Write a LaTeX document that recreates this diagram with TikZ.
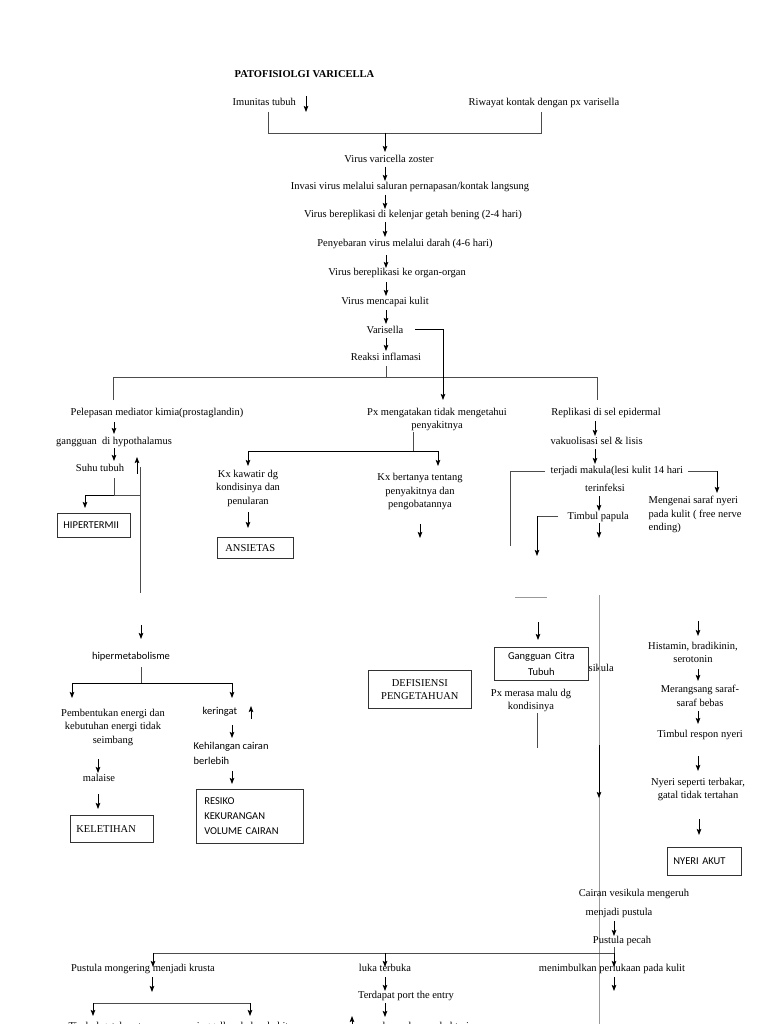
\documentclass[tikz,border=0pt]{standalone}
\usepackage{fontspec}
\setmainfont{Liberation Serif}
\newfontfamily\sansf{Carlito}
\usetikzlibrary{arrows.meta}
\begin{document}
\begin{tikzpicture}[x=1pt,y=-1pt,
  tx/.style={inner sep=0.5pt, font=\fontsize{10.5}{13.5}\selectfont, align=center},
  t1/.style={tx, text height=7pt, text depth=2.2pt},
  sx/.style={inner sep=0.5pt, font=\sansf\fontsize{10.5}{15}\selectfont, align=left},
  s1/.style={sx, text height=7pt, text depth=2.2pt},
  arr/.style={-{Stealth[length=6pt,width=4.5pt,inset=1pt]}, line width=0.8pt, draw=black},
  ln/.style={line width=0.8pt, draw=black!70},
  gl/.style={line width=1pt, draw=black!40},
  bx/.style={draw=black!80, line width=0.8pt, inner ysep=0pt, anchor=north west}]
\useasboundingbox (0,0) rectangle (768,1024);
\clip (0,0) rectangle (768,1024);
\fill[white] (0,0) rectangle (768,1024);

% ---------- top chain ----------
\node[t1,anchor=west,font=\bfseries\fontsize{10.5}{12}\selectfont] (title) at (234,75) {PATOFISIOLGI VARICELLA};
\node[t1,anchor=west] (imun) at (232,103) {Imunitas tubuh};
\draw[arr] (306,96) -- (306,112);
\node[t1,anchor=west] (riw) at (468,103) {Riwayat kontak dengan px varisella};
\draw[ln] (268,112) -- (268,133) -- (541,133) -- (541,112);
\draw[arr] (385,133) -- (385,152);
\node[t1] (vz) at (389,160) {Virus varicella zoster};
\draw[arr] (385,167) -- (385,181);
\node[t1] (inv) at (410,187) {Invasi virus melalui saluran pernapasan/kontak langsung};
\draw[arr] (385,195) -- (385,209);
\node[t1] (rep1) at (413,215) {Virus bereplikasi di kelenjar getah bening (2-4 hari)};
\draw[arr] (385,222) -- (385,237);
\node[t1] (peny) at (405,244) {Penyebaran virus melalui darah (4-6 hari)};
\draw[arr] (386,255) -- (386,268);
\node[t1] (rep2) at (397,273) {Virus bereplikasi ke organ-organ};
\draw[arr] (386,282) -- (386,296);
\node[t1] (kul) at (385,302) {Virus mencapai kulit};
\draw[arr] (386,310) -- (386,324);
\node[t1] (var) at (385,331) {Varisella};
\draw[arr] (386,338) -- (386,351);
\node[t1] (reak) at (386,358) {Reaksi inflamasi};
\draw[ln] (386,366) -- (386,377);
\draw[ln] (113,400) -- (113,377) -- (597,377) -- (597,400);
\draw[arr] (415,329) -- (443,329) -- (443,400);

% ---------- left branch ----------
\node[t1] (pel) at (157,413) {Pelepasan mediator kimia(prostaglandin)};
\draw[arr] (114,422) -- (114,434);
\node[t1] (gang) at (114,442) {gangguan\ \ di hypothalamus};
\draw[arr] (114,448) -- (114,461);
\node[t1] (suhu) at (100,469) {Suhu tubuh};
\draw[arr] (137,474) -- (137,457);
\draw[ln] (140,467) -- (140,593);
\draw[ln] (114,478) -- (114,495) -- (140,495);
\draw[arr] (114,495) -- (85,495) -- (85,508);
\node[bx, sx, minimum width=73pt, minimum height=24pt, text width=61pt, inner xsep=6pt, inner ysep=0pt] (hip) at (57,513) {HIPERTERMII};

\draw[arr] (141,625) -- (141,639);
\node[s1] (hiper) at (131,657) {hipermetabolisme};
\draw[ln] (141,667) -- (141,683);
\draw[arr] (141,683) -- (72,683) -- (72,698);
\draw[arr] (141,683) -- (232,683) -- (232,698);
\node[tx] (pemb) at (113,727) {Pembentukan energi dan\\kebutuhan energi tidak\\seimbang};
\node[s1,anchor=west] (ker) at (202,712) {keringat};
\draw[arr] (251,719) -- (251,706);
\draw[arr] (232,725) -- (232,738);
\node[sx,anchor=west] (kehil) at (193,753.5) {Kehilangan cairan\\berlebih};
\draw[arr] (232,771) -- (232,784);
\node[bx, sx, minimum width=107pt, minimum height=54pt, text width=91pt, inner xsep=8pt, inner ysep=0pt] (resiko) at (196,789) {RESIKO\\KEKURANGAN\\VOLUME CAIRAN};
\draw[arr] (98,759) -- (98,773);
\node[t1] (mal) at (99,779) {malaise};
\draw[arr] (98,794) -- (98,809);
\node[bx, tx, minimum width=83pt, minimum height=27pt, text width=71pt, inner xsep=6pt, align=left] (kel) at (70,815) {KELETIHAN};

% ---------- middle branch ----------
\node[tx] (px) at (437,419.5) {Px mengatakan tidak mengetahui\\penyakitnya};
\draw[ln] (413,432) -- (413,451);
\draw[arr] (413,451) -- (248,451) -- (248,466);
\draw[arr] (413,451) -- (438,451) -- (438,466);
\node[tx] (kx1) at (248,488) {Kx kawatir dg\\kondisinya dan\\penularan};
\draw[arr] (248,512) -- (248,528);
\node[bx, tx, minimum width=76pt, minimum height=21pt, text width=60pt, inner xsep=8pt, align=left] (ans) at (217,537) {ANSIETAS};
\node[tx] (kx2) at (420,491.5) {Kx bertanya tentang\\penyakitnya dan\\pengobatannya};
\draw[arr] (420,524) -- (420,538);
\node[bx, tx, minimum width=103pt, minimum height=38pt, text width=95pt, inner xsep=4pt] (def) at (368,670) {DEFISIENSI\\PENGETAHUAN};

% ---------- right branch ----------
\node[t1] (repl) at (606,413) {Replikasi di sel epidermal};
\draw[arr] (595,421) -- (595,436);
\node[t1,anchor=west] (vak) at (550,442) {vakuolisasi sel \& lisis};
\draw[arr] (595,449) -- (595,464);
\node[t1,anchor=west] (mak) at (550,471) {terjadi makula(lesi kulit 14 hari};
\draw[ln] (545,471) -- (510,471) -- (510,546);
\draw[ln] (688,471) -- (717,471);
\draw[arr] (717,471) -- (717,493);
\node[t1] (ter) at (605,489) {terinfeksi};
\draw[arr] (599,496) -- (599,511);
\node[t1,anchor=west] (tp) at (567,517) {Timbul papula};
\draw[ln] (558,516) -- (537,516);
\draw[arr] (537,516) -- (537,556);
\draw[arr] (599,523) -- (599,538);
\node[tx,align=left,anchor=west] (meng) at (648,514.5) {Mengenai saraf nyeri\\pada kulit ( free nerve\\ending)};
\draw[gl] (515,597) -- (547,597);
\draw[arr] (538,622) -- (538,640);
\node[bx, sx, minimum width=94pt, minimum height=33pt, text width=90pt, inner xsep=2pt, align=center, font=\sansf\fontsize{10.5}{16}\selectfont] (citra) at (494,647) {Gangguan Citra\\Tubuh};
\node[t1,anchor=west] (sik) at (588,669) {sikula};
\node[tx] (pxm) at (531,700.5) {Px merasa malu dg\\kondisinya};
\draw[ln] (537,713) -- (537,748);
\draw[gl] (599,595) -- (599,1024);
\draw[arr] (599,745) -- (599,798);

\draw[arr] (698,621) -- (698,636);
\node[tx] (hist) at (693,652.5) {Histamin, bradikinin,\\serotonin};
\draw[arr] (698,669) -- (698,681);
\node[tx] (mer) at (700,696) {Merangsang saraf-\\saraf bebas};
\draw[arr] (698,711) -- (698,724);
\node[t1] (tim) at (700,735) {Timbul respon nyeri};
\draw[arr] (698,756) -- (698,771);
\node[tx] (nye) at (698,789.5) {Nyeri seperti terbakar,\\gatal tidak tertahan};
\draw[arr] (699,819) -- (699,835);
\node[bx, sx, minimum width=74pt, minimum height=28pt, text width=62pt, inner xsep=6pt, text height=12pt, text depth=6pt] (nak) at (667,847) {NYERI AKUT};

% ---------- bottom ----------
\node[t1] (cair1) at (634,894) {Cairan vesikula mengeruh};
\node[t1] (cair2) at (619,913) {menjadi pustula};
\draw[arr] (614,921) -- (614,936);
\node[t1] (pp) at (622,941) {Pustula pecah};
\draw[ln] (614,947) -- (614,953) -- (153,953);
\draw[arr] (153,953) -- (153,967);
\draw[arr] (385,953) -- (385,967);
\draw[arr] (614,953) -- (614,967);
\node[t1] (pmk) at (143,969) {Pustula mongering menjadi krusta};
\node[t1] (luka) at (385,969) {luka terbuka};
\node[t1] (menim) at (612,969) {menimbulkan perlukaan pada kulit};
\draw[arr] (152,977) -- (152,992);
\draw[arr] (385,977) -- (385,991);
\draw[arr] (614,977) -- (614,991);
\node[t1] (terd) at (406,996) {Terdapat port the entry};
\draw[arr] (385,1003) -- (385,1017);
\draw[ln] (93,1003) -- (250,1003);
\draw[arr] (93,1003) -- (93,1016);
\draw[arr] (250,1003) -- (250,1016);
\node[t1,anchor=west] (tgs) at (68,1027) {Timbul gatal saat};
\node[t1,anchor=west] (mbk) at (178,1027) {meninggalkan bekas kehitaman};
\node[t1,anchor=west] (pkb) at (357,1027) {penyebaran kuman bakteri};
\draw[arr] (352,1026) -- (352,1016);
\end{tikzpicture}
\end{document}
